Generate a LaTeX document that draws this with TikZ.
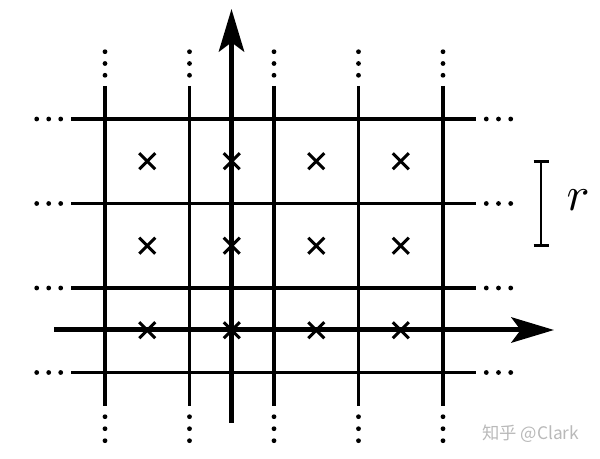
\documentclass[tikz,border=0pt]{standalone}
\usepackage{fontspec}
\newfontfamily\cjkfont{Noto Sans CJK SC}
\usetikzlibrary{arrows.meta}
\definecolor{wmgray}{RGB}{185,185,185}
\tikzset{
  gridline/.style={line width=2.3pt},
  axisline/.style={line width=3.75pt,-{Stealth[length=32pt,width=19pt,inset=7pt]}},
  crossmark/.style={line width=2.3pt},
  dotmark/.style={fill=black},
  bracketline/.style={line width=1.6pt}
}
\begin{document}
\begin{tikzpicture}[x=0.75pt,y=-0.75pt]
\useasboundingbox (0,0) rectangle (600,459);
% vertical grid lines with dots
\foreach \gx in {105,189.5,274,358.5,443}{
  \draw[gridline] (\gx,86) -- (\gx,406);
  \foreach \dy in {51.7,63.5,75.3,416.7,428.7,440.7}
    \fill[dotmark] (\gx,\dy) circle (2.4);
}
% horizontal grid lines with dots
\foreach \gy in {119,203.5,288,372.5}{
  \draw[gridline] (71,\gy) -- (476,\gy);
  \foreach \dx in {36.7,48.7,60.7,486.3,498.5,510.7}
    \fill[dotmark] (\dx,\gy) circle (2.4);
}
% axes
\coordinate (yA) at (231.5,423);
\coordinate (yB) at (231.5,9);
\coordinate (xA) at (54,330);
\coordinate (xB) at (554,330);
\draw[axisline] (yA) -- (yB);
\draw[axisline] (xA) -- (xB);
% crosses
\foreach \cx in {147.25,231.75,316.25,400.75}{
  \foreach \cy in {161.25,245.75,330.25}{
    \draw[crossmark] (\cx-8,\cy-8) -- (\cx+8,\cy+8);
    \draw[crossmark] (\cx-8,\cy+8) -- (\cx+8,\cy-8);
  }
}
% bracket r
\coordinate (rT) at (541,161.5);
\coordinate (rB) at (541,245.5);
\draw[bracketline] (rT) -- (rB);
\draw[bracketline] ([xshift=-7.5*0.75pt]rT) -- ([xshift=7.5*0.75pt]rT);
\draw[bracketline] ([xshift=-7.5*0.75pt]rB) -- ([xshift=7.5*0.75pt]rB);
\node[scale=3.6, inner sep=0pt] (rlabel) at (578,200) {$r$};
% watermark
\node[text=wmgray, anchor=west, inner sep=0pt] (wm) at (482,434) {\cjkfont\fontsize{13}{13}\selectfont 知乎 @Clark};
\end{tikzpicture}
\end{document}
